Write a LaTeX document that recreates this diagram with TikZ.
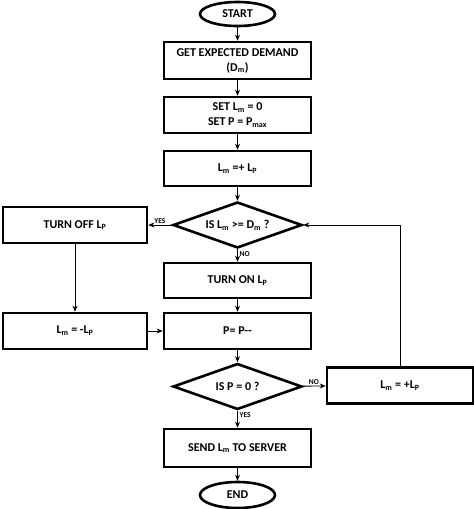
\documentclass[tikz,border=0pt]{standalone}
\usepackage{fontspec}
\setmainfont{Carlito}
\usetikzlibrary{shapes.geometric,arrows.meta}
\begin{document}
\begin{tikzpicture}[x=1pt,y=-1pt,
  font=\fontsize{12}{15}\selectfont\bfseries,
  box/.style={draw,line width=2.6pt,minimum width=147pt,minimum height=36pt,inner sep=0pt,align=center},
  term/.style={draw,ellipse,line width=2.6pt,minimum width=75pt,minimum height=24pt,inner sep=0pt},
  dec/.style={draw,diamond,aspect=2.8,line width=2.6pt,minimum width=129pt,minimum height=46pt,inner sep=0pt},
  arr/.style={line width=0.9pt,-{Stealth[length=6pt,width=5pt]}},
  lab/.style={font=\fontsize{7.5}{8}\selectfont\bfseries,inner sep=1pt}]
\useasboundingbox (0,0) rectangle (474,509);
\node[term] (start) at (237.5,14) {START};
\node[box,minimum height=37pt] (get) at (237.5,60.5) {GET EXPECTED DEMAND\\(D\textsubscript{m})};
\node[box] (set) at (237.5,115) {SET L\textsubscript{m} = 0\\SET P = P\textsubscript{max}};
\node[box,minimum height=35pt] (add) at (237.5,168.5) {L\textsubscript{m} =+ L\textsubscript{P}};
\node[dec] (d1) at (237.5,225) {IS L\textsubscript{m} >= D\textsubscript{m} ?};
\node[box,minimum width=144pt] (off) at (75,225) {TURN OFF L\textsubscript{P}};
\node[box,minimum height=35pt] (on) at (237.5,280.5) {TURN ON L\textsubscript{P}};
\node[box,minimum width=144pt] (sub) at (75,331) {L\textsubscript{m} = -L\textsubscript{P}};
\node[box] (dec) at (237.5,331) {P= P-{}-};
\node[dec] (d2) at (237.5,386.5) {IS P = 0 ?};
\node[box,minimum width=146pt] (plus) at (400,385.5) {L\textsubscript{m} = +L\textsubscript{P}};
\node[box,minimum height=38pt] (send) at (237.5,448) {SEND L\textsubscript{m} TO SERVER};
\node[term,minimum height=26pt] (end) at (237.5,495) {END};
\draw[arr] (start) -- (get);
\draw[arr] (get) -- (set);
\draw[arr] (set) -- (add);
\draw[arr] (add) -- (d1);
\draw[arr] (d1) -- node[lab,above] {YES} (off);
\draw[arr] (d1) -- (on);
\node[lab,anchor=north west] (no1) at ([xshift=1pt,yshift=-1pt]d1.south) {NO};
\draw[arr] (off) -- (sub);
\draw[arr] (sub) -- (dec);
\draw[arr] (on) -- (dec);
\draw[arr] (dec) -- (d2);
\draw[arr] (d2) -- node[lab,above] {NO} (plus);
\draw[arr] (d2) -- (send);
\node[lab,anchor=north west] (yes2) at ([xshift=1pt,yshift=-1pt]d2.south) {YES};
\draw[arr] (send) -- (end);
\draw[arr] (plus.north) |- (d1.east);
\end{tikzpicture}
\end{document}
